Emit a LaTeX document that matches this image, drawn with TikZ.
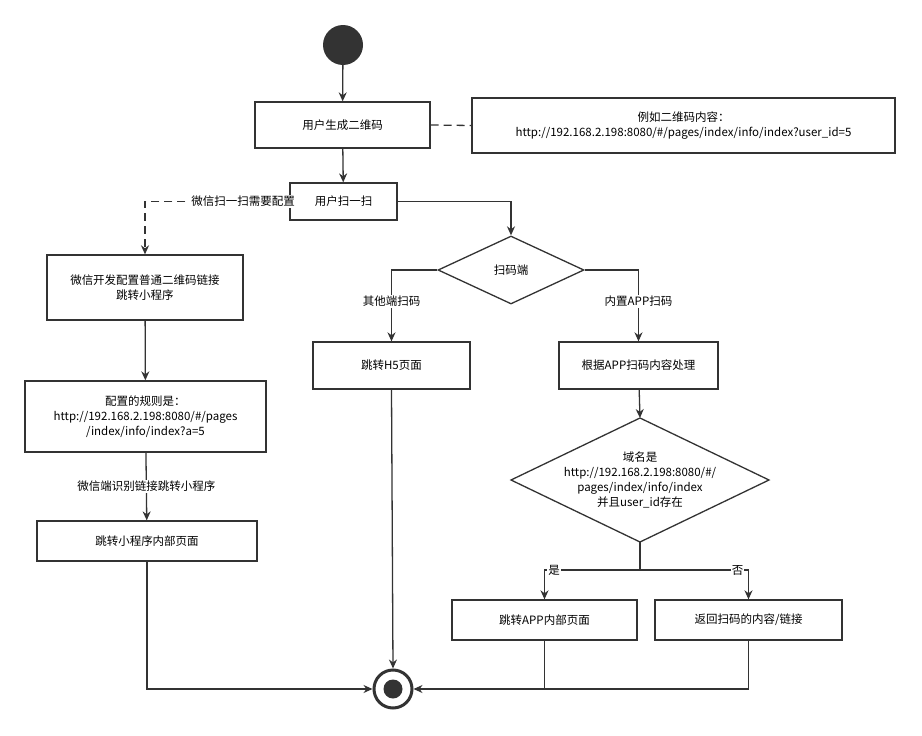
\documentclass[tikz,border=0pt]{standalone}
\usepackage{fontspec}
\setmainfont{Noto Sans CJK SC}
\usetikzlibrary{arrows.meta,shapes.geometric}
\definecolor{ln}{HTML}{333333}
\begin{document}
\begin{tikzpicture}[x=1pt,y=-1pt,
  box/.style={draw=ln,line width=1.3pt,fill=white,font=\fontsize{11.5}{15}\selectfont,align=center,inner sep=0pt},
  flow/.style={draw=ln,line width=1.3pt,-{Stealth[length=9pt,width=8pt]}},
  plain/.style={draw=ln,line width=1.3pt},
  lab/.style={fill=white,font=\fontsize{11.5}{14}\selectfont,inner sep=1pt}]
\useasboundingbox[fill=white] (0,0) rectangle (922,736);
\node[circle,fill=ln,minimum size=40pt,inner sep=0pt] (start) at (343,45) {};
\node[box,minimum width=175pt,minimum height=46pt] (gen) at (342.5,125) {用户生成二维码};
\node[box,minimum width=423pt,minimum height=55pt] (note) at (683.5,125.5) {例如二维码内容：\\http://192.168.2.198:8080/\#/pages/index/info/index?user\_id=5};
\node[box,minimum width=107pt,minimum height=37pt] (scan) at (343.5,201.5) {用户扫一扫};
\node[box,minimum width=196pt,minimum height=65pt] (wxcfg) at (145,287.5) {微信开发配置普通二维码链接\\跳转小程序};
\node[box,minimum width=241pt,minimum height=71pt] (rule) at (145.5,416.5) {配置的规则是：\\http://192.168.2.198:8080/\#/pages\\/index/info/index?a=5};
\node[box,minimum width=220pt,minimum height=40pt] (mini) at (147,541) {跳转小程序内部页面};
\node[diamond,draw=ln,line width=1.3pt,fill=white,minimum width=146pt,minimum height=68pt,inner sep=0pt,font=\fontsize{11.5}{14}\selectfont] (d1) at (511,270) {扫码端};
\node[box,minimum width=157pt,minimum height=47pt] (h5) at (391.5,365.5) {跳转H5页面};
\node[box,minimum width=159pt,minimum height=47pt] (app) at (638.5,365.5) {根据APP扫码内容处理};
\coordinate (d2t) at (640,418);
\coordinate (d2r) at (769,480);
\coordinate (d2b) at (640,542);
\coordinate (d2l) at (511,480);
\draw[plain,fill=white] (d2t) -- (d2r) -- (d2b) -- (d2l) -- cycle;
\node[align=center,font=\fontsize{11.5}{15}\selectfont,inner sep=0pt] (d2) at (640,480) {域名是\\http://192.168.2.198:8080/\#/\\pages/index/info/index\\并且user\_id存在};
\node[box,minimum width=185pt,minimum height=40pt] (appin) at (544.5,620) {跳转APP内部页面};
\node[box,minimum width=187pt,minimum height=40pt] (ret) at (748.5,620) {返回扫码的内容/链接};
\node[circle,draw=ln,line width=3pt,minimum size=38pt,inner sep=0pt] (end) at (393,689) {};
\fill[ln] (end.center) circle (9.5pt);
\draw[flow] (start) -- (gen);
\draw[plain,dashed,dash pattern=on 8pt off 5pt] (gen.east) -- (note.west);
\draw[flow] (gen) -- (scan);
\draw[flow,dashed,dash pattern=on 8pt off 5pt] (scan.west) -| node[lab,pos=0.16]{微信扫一扫需要配置} (wxcfg.north);
\draw[flow] (scan.east) -| (d1.north);
\draw[flow] (d1.west) -| node[lab,pos=0.72]{其他端扫码} (h5.north);
\draw[flow] (d1.east) -| node[lab,pos=0.72]{内置APP扫码} (app.north);
\draw[flow] (app) -- (d2t);
\draw[flow] (d2b) -- (640,570) -| node[lab,pos=0.45]{是} (appin.north);
\draw[flow] (640,570) -| node[lab,pos=0.45]{否} (ret.north);
\draw[flow] (wxcfg) -- (rule);
\draw[flow] (rule) -- node[lab]{微信端识别链接跳转小程序} (mini);
\draw[flow] (mini.south) |- (end.west);
\draw[flow] (h5.south) -- (end.north);
\draw[flow] (appin.south) |- (end.east);
\draw[plain] (ret.south) |- (appin.south |- end.east);
\end{tikzpicture}
\end{document}
